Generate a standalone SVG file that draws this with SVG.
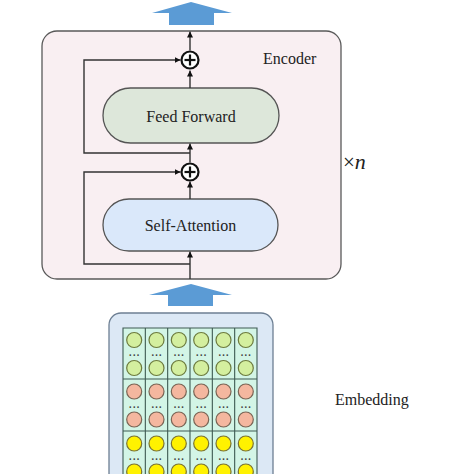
<svg xmlns="http://www.w3.org/2000/svg" width="474" height="474" viewBox="0 0 474 474">
<defs>
<style>
.t{font-family:"Liberation Serif","Times New Roman",serif;fill:#222;}
.lbl{font-size:16px;text-anchor:middle;}
.conn{fill:none;stroke:#333;stroke-width:1.4;}
.pill{stroke:#555;stroke-width:1.3;}
.plus{fill:#fff;stroke:#111;stroke-width:2.2;}
.plusbar{stroke:#111;stroke-width:2.2;}
.big{fill:#5b9bd5;}
.grid{stroke:#3e5a52;stroke-width:1.1;fill:none;}
.g{fill:#d4ef9f;stroke:#6d7b3e;stroke-width:1.2;}
.p{fill:#f4b79f;stroke:#7a6454;stroke-width:1.2;}
.y{fill:#fff200;stroke:#7b7332;stroke-width:1.2;}
.dots{font-family:"DejaVu Sans",sans-serif;font-size:8px;fill:#444;text-anchor:middle;font-weight:bold;letter-spacing:0.8px;}
</style>
<marker id="ah" viewBox="0 0 10 10" refX="10" refY="5" markerWidth="6" markerHeight="6" markerUnits="userSpaceOnUse" orient="auto">
<path d="M0,0 L10,5 L0,10 z" fill="#111"/>
</marker>
</defs>

<g id="output-arrow">
<polygon class="big" points="191,2 232,13 214,13 214,25 169,25 169,13 152,13"/>
</g>

<g id="encoder">
<rect x="42" y="31" width="299" height="248" rx="15" fill="#f9eff2" stroke="#595959" stroke-width="1.3"/>
<text class="t" x="263" y="64" font-size="16">Encoder</text>
</g>

<g id="feed-forward">
<rect class="pill" x="103" y="88" width="176" height="55" rx="27.5" fill="#dde7da"/>
<text class="t lbl" x="191" y="122">Feed Forward</text>
</g>

<g id="self-attention">
<rect class="pill" x="103" y="199" width="175" height="52" rx="26" fill="#dae8fa"/>
<text class="t lbl" x="190.5" y="231">Self-Attention</text>
</g>

<g id="add1">
<circle class="plus" cx="190" cy="60" r="8.5"/>
<line class="plusbar" x1="184.5" y1="60" x2="195.5" y2="60"/>
<line class="plusbar" x1="190" y1="54.5" x2="190" y2="65.5"/>
</g>

<g id="add2">
<circle class="plus" cx="190" cy="172" r="8.5"/>
<line class="plusbar" x1="184.5" y1="172" x2="195.5" y2="172"/>
<line class="plusbar" x1="190" y1="166.5" x2="190" y2="177.5"/>
</g>

<g id="connectors">
<line class="conn" x1="190" y1="279" x2="190" y2="251.5" marker-end="url(#ah)"/>
<polyline class="conn" points="190,264 84,264 84,172 180.5,172" marker-end="url(#ah)"/>
<line class="conn" x1="190" y1="199" x2="190" y2="181.5" marker-end="url(#ah)"/>
<line class="conn" x1="190" y1="162.5" x2="190" y2="143.5" marker-end="url(#ah)"/>
<polyline class="conn" points="190,153 84,153 84,60 180.5,60" marker-end="url(#ah)"/>
<line class="conn" x1="190" y1="88" x2="190" y2="70.5" marker-end="url(#ah)"/>
<line class="conn" x1="190" y1="50.5" x2="190" y2="31.5" marker-end="url(#ah)"/>
</g>

<g id="repeat-label">
<text class="t" x="343" y="169" font-size="21">×<tspan font-style="italic" font-size="22">n</tspan></text>
</g>

<g id="input-arrow">
<polygon class="big" points="191,284 232,295 213,295 213,306 168,306 168,295 149,295"/>
</g>

<g id="embedding">
<rect x="109" y="313" width="164" height="180" rx="12" fill="#dce8f5" stroke="#6d7f93" stroke-width="1.3"/>
<rect x="123" y="328" width="134" height="160" fill="#d3f5e6"/>
<g class="grid">
<path d="M123,488 V328 H257 V488"/>
<path d="M145.33,328 V488 M167.67,328 V488 M190,328 V488 M212.33,328 V488 M234.67,328 V488"/>
<path d="M123,379 H257 M123,431 H257"/>
</g>
<g>
<circle class="g" cx="134.2" cy="340" r="7.5"/><circle class="g" cx="156.5" cy="340" r="7.5"/><circle class="g" cx="178.8" cy="340" r="7.5"/><circle class="g" cx="201.2" cy="340" r="7.5"/><circle class="g" cx="223.5" cy="340" r="7.5"/><circle class="g" cx="245.8" cy="340" r="7.5"/>
<circle class="g" cx="134.2" cy="368" r="7.5"/><circle class="g" cx="156.5" cy="368" r="7.5"/><circle class="g" cx="178.8" cy="368" r="7.5"/><circle class="g" cx="201.2" cy="368" r="7.5"/><circle class="g" cx="223.5" cy="368" r="7.5"/><circle class="g" cx="245.8" cy="368" r="7.5"/>
<circle class="p" cx="134.2" cy="391.5" r="7.5"/><circle class="p" cx="156.5" cy="391.5" r="7.5"/><circle class="p" cx="178.8" cy="391.5" r="7.5"/><circle class="p" cx="201.2" cy="391.5" r="7.5"/><circle class="p" cx="223.5" cy="391.5" r="7.5"/><circle class="p" cx="245.8" cy="391.5" r="7.5"/>
<circle class="p" cx="134.2" cy="419.5" r="7.5"/><circle class="p" cx="156.5" cy="419.5" r="7.5"/><circle class="p" cx="178.8" cy="419.5" r="7.5"/><circle class="p" cx="201.2" cy="419.5" r="7.5"/><circle class="p" cx="223.5" cy="419.5" r="7.5"/><circle class="p" cx="245.8" cy="419.5" r="7.5"/>
<circle class="y" cx="134.2" cy="443.5" r="7.5"/><circle class="y" cx="156.5" cy="443.5" r="7.5"/><circle class="y" cx="178.8" cy="443.5" r="7.5"/><circle class="y" cx="201.2" cy="443.5" r="7.5"/><circle class="y" cx="223.5" cy="443.5" r="7.5"/><circle class="y" cx="245.8" cy="443.5" r="7.5"/>
<circle class="y" cx="134.2" cy="471.5" r="7.5"/><circle class="y" cx="156.5" cy="471.5" r="7.5"/><circle class="y" cx="178.8" cy="471.5" r="7.5"/><circle class="y" cx="201.2" cy="471.5" r="7.5"/><circle class="y" cx="223.5" cy="471.5" r="7.5"/><circle class="y" cx="245.8" cy="471.5" r="7.5"/>
</g>
<g>
<text class="dots" x="134.6" y="356">...</text><text class="dots" x="156.9" y="356">...</text><text class="dots" x="179.2" y="356">...</text><text class="dots" x="201.6" y="356">...</text><text class="dots" x="223.9" y="356">...</text><text class="dots" x="246.2" y="356">...</text>
<text class="dots" x="134.6" y="408">...</text><text class="dots" x="156.9" y="408">...</text><text class="dots" x="179.2" y="408">...</text><text class="dots" x="201.6" y="408">...</text><text class="dots" x="223.9" y="408">...</text><text class="dots" x="246.2" y="408">...</text>
<text class="dots" x="134.6" y="460">...</text><text class="dots" x="156.9" y="460">...</text><text class="dots" x="179.2" y="460">...</text><text class="dots" x="201.6" y="460">...</text><text class="dots" x="223.9" y="460">...</text><text class="dots" x="246.2" y="460">...</text>
</g>
<text class="t" x="335" y="405" font-size="16">Embedding</text>
</g>
</svg>
